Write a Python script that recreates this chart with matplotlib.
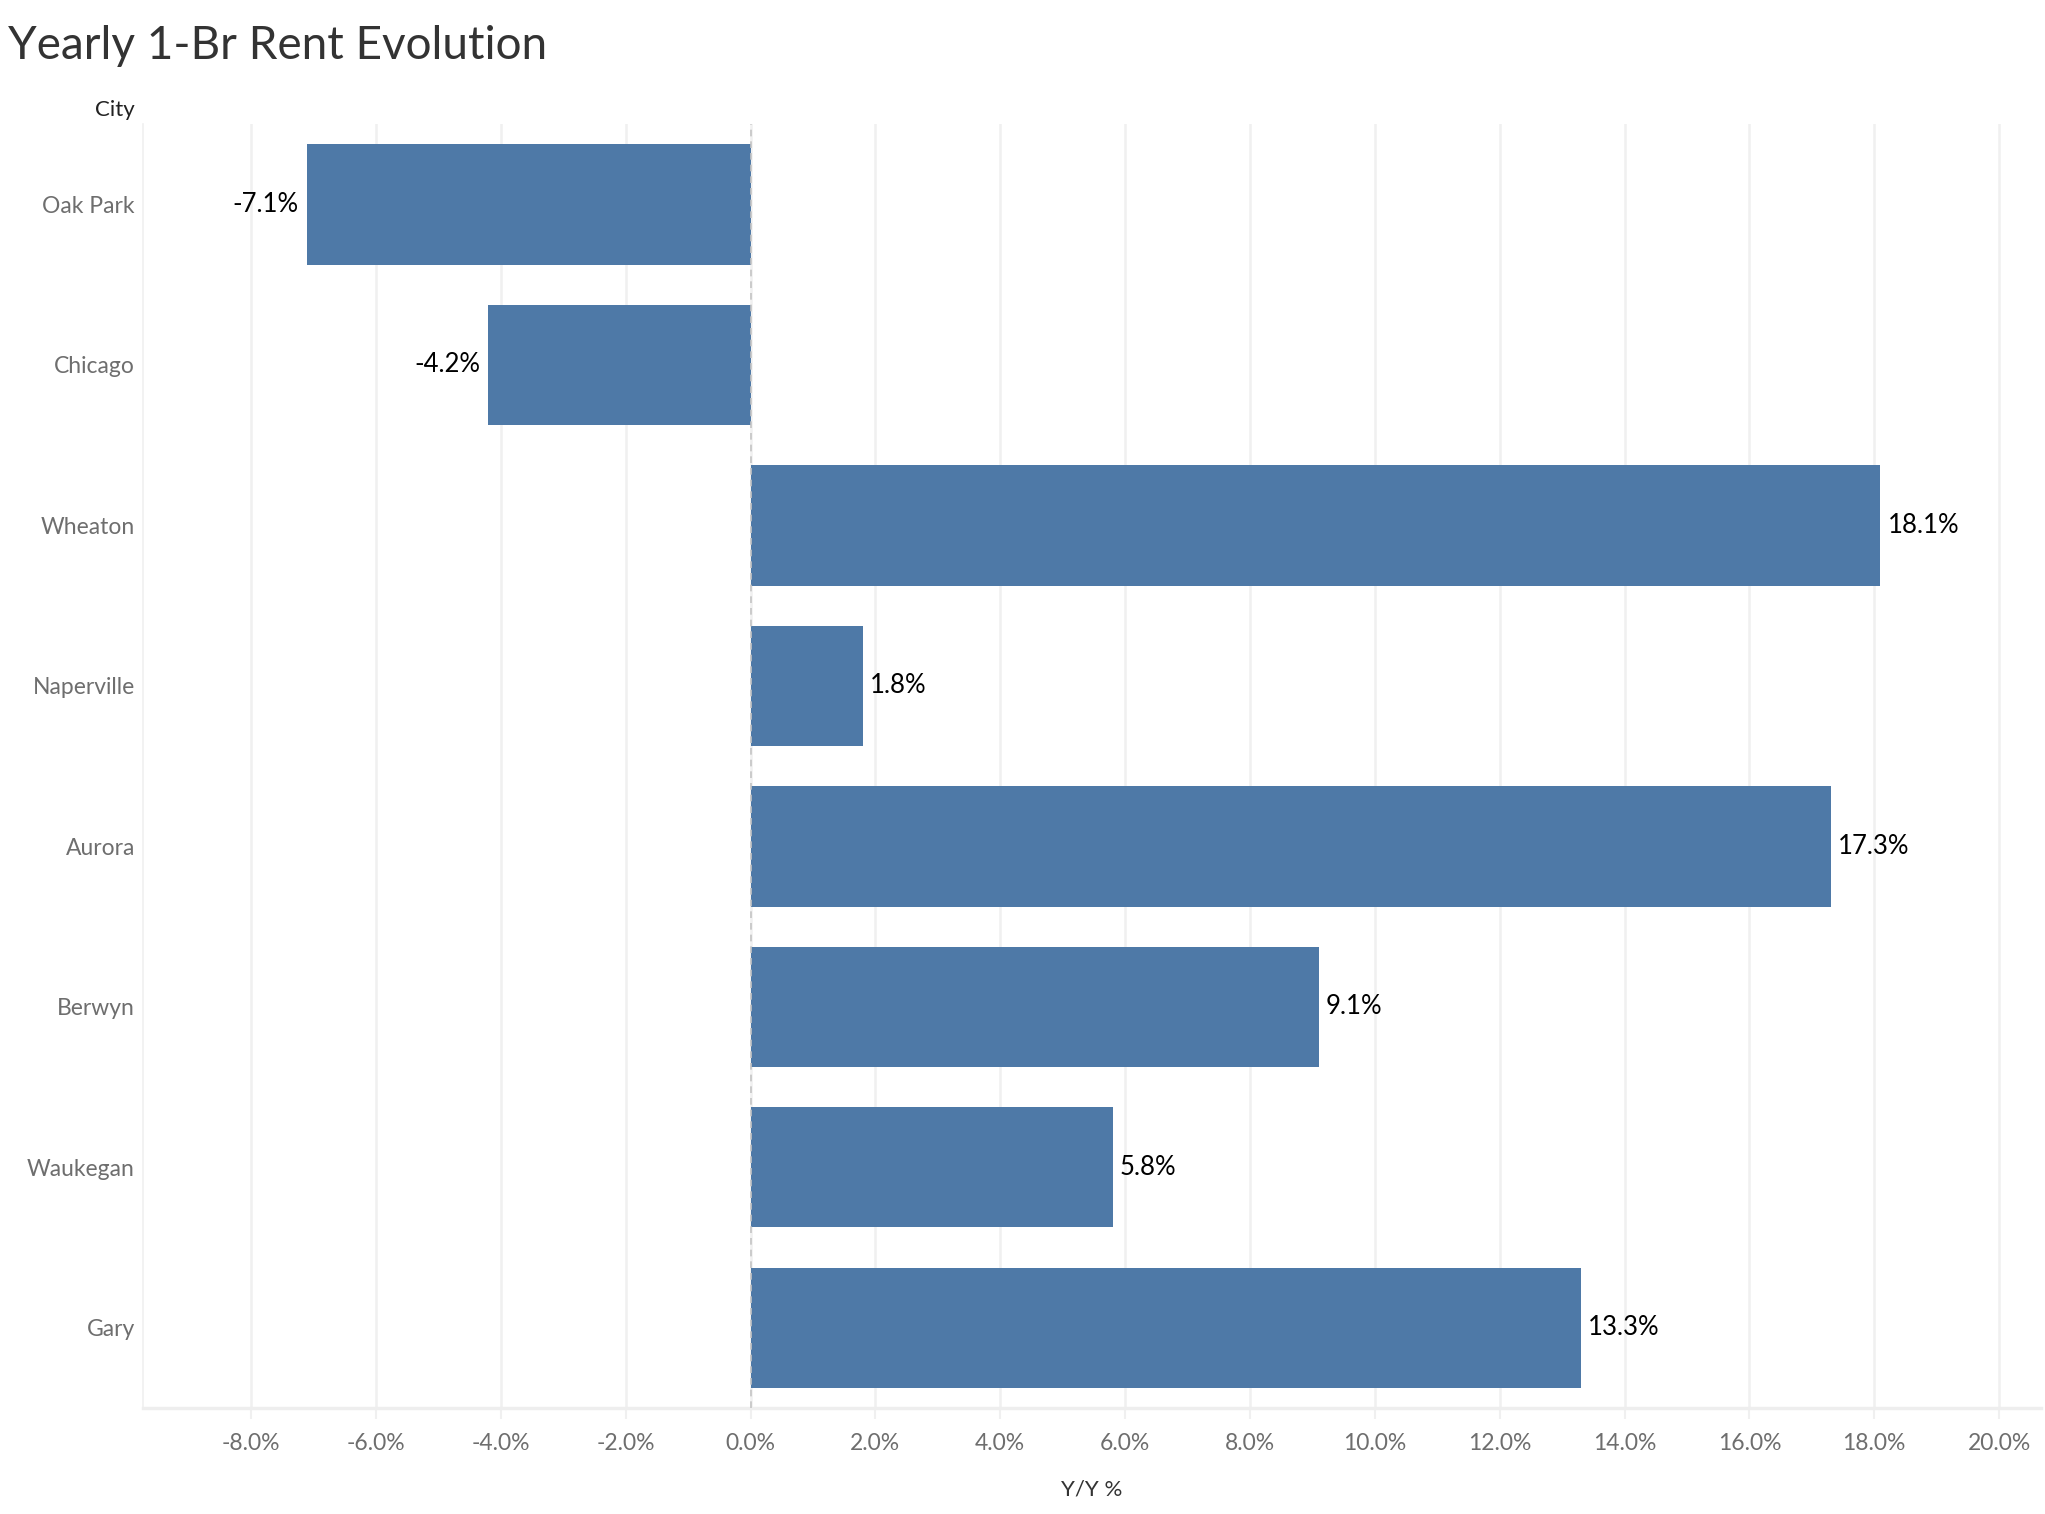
import matplotlib
matplotlib.use("Agg")
import matplotlib.pyplot as plt
from matplotlib.ticker import FuncFormatter

# data
cities = ["Oak Park", "Chicago", "Wheaton", "Naperville", "Aurora", "Berwyn", "Waukegan", "Gary"]
yoy_pct = [-7.1, -4.2, 18.1, 1.8, 17.3, 9.1, 5.8, 13.3]
x_ticks = [-8, -6, -4, -2, 0, 2, 4, 6, 8, 10, 12, 14, 16, 18, 20]

BAR_COLOR = "#4e79a7"
GRID_COLOR = "#f0f0f0"
TICK_COLOR = "#6e6e6e"
FONT = ["Lato", "DejaVu Sans"]

plt.rcParams["font.family"] = FONT

fig = plt.figure(figsize=(20.45, 15.14), dpi=100)
ax = fig.add_axes([0.070, 0.070, 0.928, 0.848])

ypos = list(range(len(cities)))
ax.barh(ypos, yoy_pct, height=0.75, color=BAR_COLOR, zorder=3)

for y, v in zip(ypos, yoy_pct):
    label = f"{v:.1f}%"
    if v >= 0:
        ax.annotate(label, (v, y), xytext=(5, 0), textcoords="offset points",
                    ha="left", va="center", fontsize=18.5, color="black")
    else:
        ax.annotate(label, (v, y), xytext=(-6, 0), textcoords="offset points",
                    ha="right", va="center", fontsize=18.5, color="black")

ax.set_xlim(-9.73, 20.67)
ax.set_ylim(len(cities) - 0.5, -0.5)
ax.set_yticks(ypos)
ax.set_yticklabels(cities)
ax.set_xticks(x_ticks)
ax.xaxis.set_major_formatter(FuncFormatter(lambda v, _: f"{v:.1f}%"))

ax.grid(axis="x", color=GRID_COLOR, linewidth=1.8, zorder=0)
ax.axvline(0, color="#c4c4c4", linewidth=1.2, linestyle=(0, (4, 3)), zorder=4)

for side in ["top", "right"]:
    ax.spines[side].set_visible(False)
ax.spines["bottom"].set_color("#eeeeee")
ax.spines["bottom"].set_linewidth(2.5)
ax.spines["left"].set_color("#f0f0f0")
ax.spines["left"].set_linewidth(1.2)

ax.tick_params(axis="x", colors=GRID_COLOR, labelcolor=TICK_COLOR, labelsize=16.5,
               length=8, width=1.5, pad=10)
ax.tick_params(axis="y", length=0, labelcolor=TICK_COLOR, labelsize=16.5, pad=6)

ax.set_xlabel("Y/Y %", fontsize=16, color="#333333", labelpad=18)

fig.text(0.066, 1 - 110 / 1514, "City", ha="right", va="center", fontsize=16, color="#222222")
fig.text(0.004, 1 - 46 / 1514, "Yearly 1-Br Rent Evolution", ha="left", va="center",
         fontsize=33, color="#333333")

fig.savefig("out.png", dpi=100)
